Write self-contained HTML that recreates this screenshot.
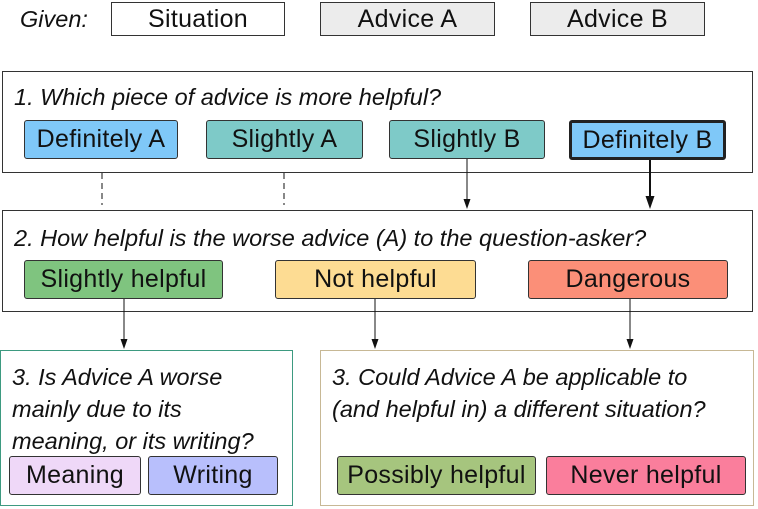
<!DOCTYPE html>
<html><head><meta charset="utf-8"><style>
body{margin:0;width:758px;height:509px;background:#fff;position:relative;overflow:hidden;font-family:"Liberation Sans",sans-serif;color:#111}
.a{position:absolute;box-sizing:border-box}
.b{position:absolute;box-sizing:border-box;border:1px solid #333;display:flex;align-items:center;justify-content:center;font-size:25px;border-radius:3px;white-space:nowrap;letter-spacing:0.3px}
.q{position:absolute;font-style:italic;font-size:23.5px;line-height:32px;white-space:nowrap}
</style></head><body>
<div class="q" style="left:20px;top:3px">Given:</div>
<div class="b" style="left:111px;top:2px;width:174px;height:34px;border-radius:0">Situation</div>
<div class="b" style="left:320px;top:2px;width:175px;height:34px;border-radius:0;background:#ececec">Advice A</div>
<div class="b" style="left:530px;top:2px;width:175px;height:34px;border-radius:0;background:#ececec">Advice B</div>

<div class="a" style="left:2px;top:71px;width:751px;height:102px;border:1px solid #333"></div>
<div class="q" style="left:14px;top:81px">1. Which piece of advice is more helpful?</div>
<div class="b" style="left:24px;top:120px;width:154px;height:39px;background:#7fc8f8">Definitely A</div>
<div class="b" style="left:206px;top:120px;width:157px;height:39px;background:#7ecac8">Slightly A</div>
<div class="b" style="left:389px;top:120px;width:156px;height:39px;background:#7ecac8">Slightly B</div>
<div class="b" style="left:569px;top:120px;width:157px;height:40px;background:#7fc8f8;border:3px solid #222">Definitely B</div>

<div class="a" style="left:2px;top:210px;width:751px;height:102px;border:1px solid #333"></div>
<div class="q" style="left:14px;top:222px">2. How helpful is the worse advice (A) to the question-asker?</div>
<div class="b" style="left:24px;top:260px;width:199px;height:39px;background:#7fc47f">Slightly helpful</div>
<div class="b" style="left:275px;top:260px;width:201px;height:39px;background:#fddc93">Not helpful</div>
<div class="b" style="left:528px;top:260px;width:200px;height:39px;background:#fb8f78">Dangerous</div>

<div class="a" style="left:0px;top:350px;width:293px;height:156px;border:1px solid #3d9a80"></div>
<div class="q" style="left:12px;top:361px">3. Is Advice A worse<br>mainly due to its<br>meaning, or its writing?</div>
<div class="b" style="left:9px;top:456px;width:132px;height:39px;background:#efd8f8">Meaning</div>
<div class="b" style="left:148px;top:456px;width:130px;height:39px;background:#b8bffc">Writing</div>

<div class="a" style="left:320px;top:350px;width:434px;height:156px;border:1px solid #c7b895"></div>
<div class="q" style="left:332px;top:361px">3. Could Advice A be applicable to<br>(and helpful in) a different situation?</div>
<div class="b" style="left:337px;top:456px;width:199px;height:39px;background:#a6c57e">Possibly helpful</div>
<div class="b" style="left:546px;top:456px;width:200px;height:39px;background:#fa7e9c">Never helpful</div>

<svg class="a" style="left:0;top:0" width="758" height="509">
<g stroke="#111" fill="none">
<line x1="102" y1="173" x2="102" y2="205" stroke-dasharray="6,4"/>
<line x1="284" y1="173" x2="284" y2="205" stroke-dasharray="6,4"/>
<line x1="467" y1="159" x2="467" y2="200"/>
<line x1="650" y1="160" x2="650" y2="198" stroke-width="2"/>
<line x1="124" y1="299" x2="124" y2="340"/>
<line x1="375" y1="299" x2="375" y2="340"/>
<line x1="630" y1="299" x2="630" y2="340"/>
</g>
<g fill="#111">
<path d="M463.5,199 L470.5,199 L467,209 z"/>
<path d="M645.5,196 L654.5,196 L650,209 z"/>
<path d="M120.5,339 L127.5,339 L124,349 z"/>
<path d="M371.5,339 L378.5,339 L375,349 z"/>
<path d="M626.5,339 L633.5,339 L630,349 z"/>
</g></svg>
</body></html>
